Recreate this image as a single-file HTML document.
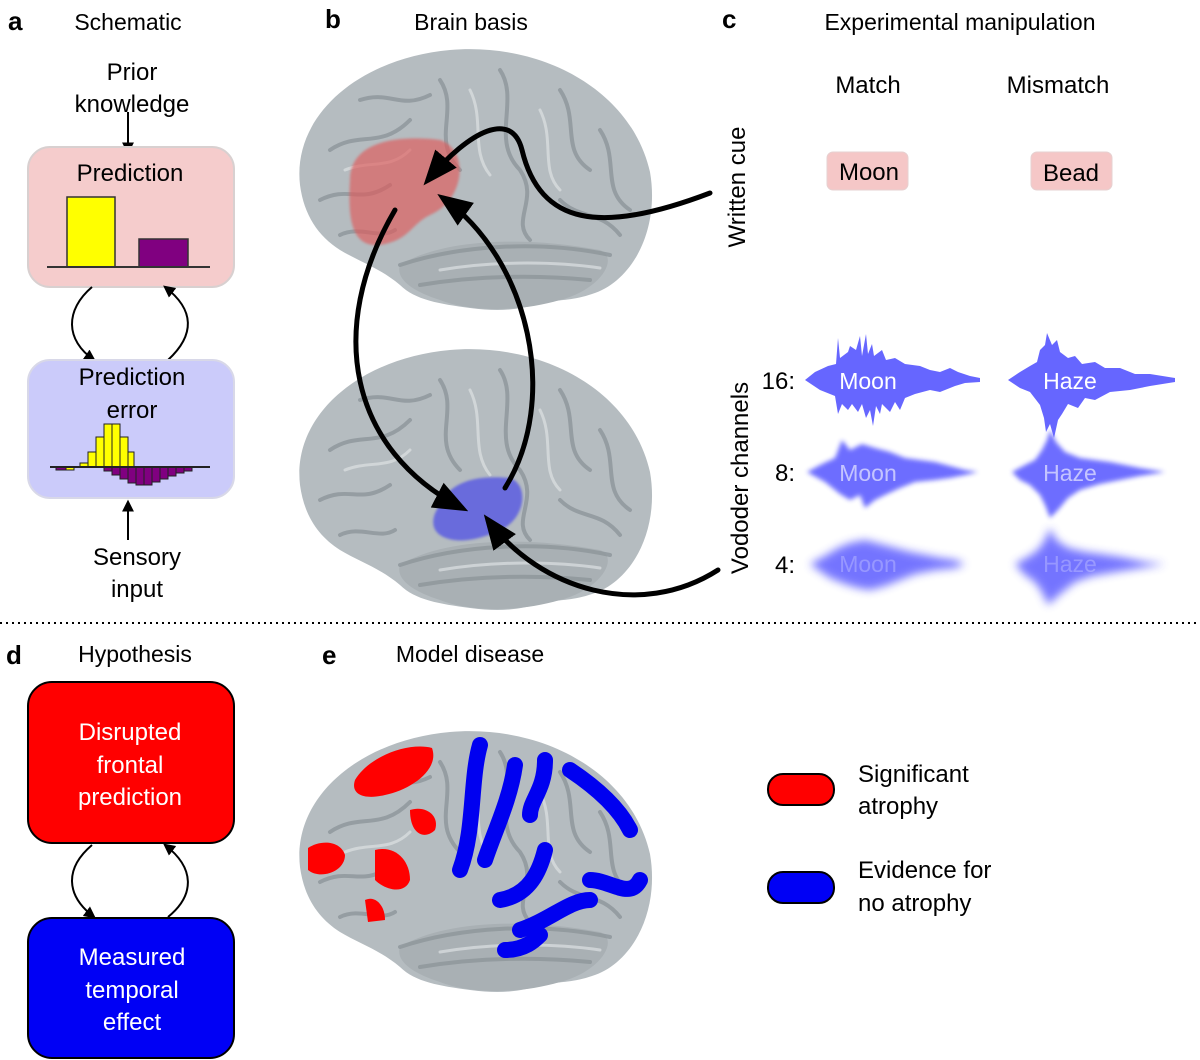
<!DOCTYPE html>
<html><head><meta charset="utf-8"><style>
html,body{margin:0;padding:0;background:#fff}
svg{display:block}
text{font-family:"Liberation Sans",Arial,sans-serif}
</style></head><body>
<svg width="1200" height="1060" viewBox="0 0 1200 1060" xmlns="http://www.w3.org/2000/svg">
<defs>
<marker id="ah" viewBox="0 0 10 10" refX="8" refY="5" markerWidth="6" markerHeight="6" orient="auto"><path d="M0,0 L10,5 L0,10 Z" fill="#000"/></marker>
<marker id="as" viewBox="0 0 10 10" refX="8" refY="5" markerWidth="7" markerHeight="7" orient="auto"><path d="M0,1 L10,5 L0,9 Z" fill="#000"/></marker>
<filter id="bl1"><feGaussianBlur stdDeviation="1.2"/></filter>
<filter id="bl2"><feGaussianBlur stdDeviation="2.5"/></filter>
<filter id="bl3"><feGaussianBlur stdDeviation="4.5"/></filter>
<g id="brain">
<path d="M300,185 C292,115 360,58 450,50 C545,42 632,92 650,172 C660,230 632,282 592,294 C575,300 560,300 545,302 C520,310 500,312 470,308 C440,304 415,300 400,285 C380,268 360,262 340,250 C318,236 304,215 300,185 Z" fill="#b5bcc0"/>
<path d="M400,265 C440,240 520,235 600,250 C620,258 600,290 560,300 C520,312 470,312 440,300 C415,292 395,280 400,265 Z" fill="#a9b0b4"/>
<g fill="none" stroke="#8e969b" stroke-width="4" stroke-linecap="round" opacity="0.8">
<path d="M330,150 C360,130 380,150 410,120"/><path d="M320,200 C350,185 360,205 390,185"/>
<path d="M440,80 C460,110 430,140 460,170"/><path d="M500,70 C520,100 490,140 520,170 C540,200 510,220 530,240"/>
<path d="M560,90 C580,120 560,150 590,170"/><path d="M600,130 C620,160 600,190 630,210"/>
<path d="M400,265 C460,245 540,240 610,255"/><path d="M420,285 C480,275 540,275 590,280"/>
<path d="M360,100 C390,90 400,110 430,95"/><path d="M560,200 C580,220 600,210 620,235"/>
<path d="M340,235 C360,225 380,240 395,230"/>
</g>
<g fill="none" stroke="#dde1e3" stroke-width="3" stroke-linecap="round" opacity="0.7">
<path d="M345,170 C370,160 390,170 410,150"/><path d="M470,90 C485,120 470,150 490,175"/><path d="M540,110 C555,140 540,170 560,190"/><path d="M440,270 C500,260 560,262 600,268"/>
</g>
</g>
</defs>

<!-- Panel a -->
<text x="8" y="30" font-size="26" font-weight="bold">a</text>
<text x="128" y="30" font-size="23" text-anchor="middle">Schematic</text>
<text x="132" y="80" font-size="24" text-anchor="middle">Prior</text>
<text x="132" y="112" font-size="24" text-anchor="middle">knowledge</text>
<line x1="128" y1="112" x2="128" y2="152" stroke="#000" stroke-width="2" marker-end="url(#ah)"/>
<rect x="28" y="147" width="206" height="140" rx="22" fill="#f5cccc" stroke="#d8d0d0" stroke-width="2"/>
<text x="130" y="181" font-size="24" text-anchor="middle">Prediction</text>
<rect x="67" y="197" width="48" height="70" fill="#ffff00" stroke="#333" stroke-width="1.5"/>
<rect x="139" y="239" width="49" height="28" fill="#800080" stroke="#333" stroke-width="1.5"/>
<line x1="47" y1="267" x2="210" y2="267" stroke="#333" stroke-width="2"/>
<path d="M92,287 C65,310 65,340 94,360" fill="none" stroke="#000" stroke-width="2" marker-end="url(#ah)"/>
<path d="M168,360 C195,335 195,310 165,287" fill="none" stroke="#000" stroke-width="2" marker-end="url(#ah)"/>
<rect x="28" y="360" width="206" height="138" rx="22" fill="#cbcbfa" stroke="#d8d8e8" stroke-width="2"/>
<text x="132" y="385" font-size="24" text-anchor="middle">Prediction</text>
<text x="132" y="418" font-size="24" text-anchor="middle">error</text>
<g stroke="#222" stroke-width="1">
<rect x="88" y="452" width="8" height="15" fill="#ffff00"/><rect x="96" y="437" width="8" height="30" fill="#ffff00"/><rect x="104" y="424" width="8" height="43" fill="#ffff00"/><rect x="112" y="424" width="8" height="43" fill="#ffff00"/><rect x="120" y="437" width="8" height="30" fill="#ffff00"/><rect x="128" y="452" width="6" height="15" fill="#ffff00"/>
<rect x="80" y="463" width="8" height="4" fill="#ffff00"/>
<rect x="104" y="467" width="8" height="4" fill="#800080"/><rect x="112" y="467" width="8" height="8" fill="#800080"/><rect x="120" y="467" width="8" height="12" fill="#800080"/><rect x="128" y="467" width="8" height="16" fill="#800080"/><rect x="136" y="467" width="8" height="18" fill="#800080"/><rect x="144" y="467" width="8" height="18" fill="#800080"/><rect x="152" y="467" width="8" height="15" fill="#800080"/><rect x="160" y="467" width="8" height="12" fill="#800080"/><rect x="168" y="467" width="8" height="9" fill="#800080"/><rect x="176" y="467" width="8" height="6" fill="#800080"/><rect x="184" y="467" width="8" height="4" fill="#800080"/>
<rect x="56" y="467" width="10" height="3" fill="#800080"/><rect x="66" y="467" width="8" height="3" fill="#ffff00"/>
</g>
<line x1="50" y1="467" x2="210" y2="467" stroke="#222" stroke-width="2"/>
<line x1="128" y1="540" x2="128" y2="502" stroke="#000" stroke-width="2" marker-end="url(#ah)"/>
<text x="137" y="565" font-size="24" text-anchor="middle">Sensory</text>
<text x="137" y="597" font-size="24" text-anchor="middle">input</text>

<!-- Panel b -->
<text x="325" y="28" font-size="26" font-weight="bold">b</text>
<text x="471" y="30" font-size="23" text-anchor="middle">Brain basis</text>
<use href="#brain"/>
<path d="M350,180 C350,140 400,135 440,140 C470,150 465,200 430,215 C410,225 410,240 380,245 C350,248 348,215 350,180 Z" fill="#e05a5a" opacity="0.65" filter="url(#bl1)"/>
<g transform="translate(0,300)"><use href="#brain"/></g>
<path d="M440,505 C450,480 480,475 510,478 C530,485 525,520 500,530 C480,540 455,545 440,535 C430,528 432,515 440,505 Z" fill="#4a4ae8" opacity="0.7" filter="url(#bl1)"/>
<g fill="none" stroke="#000" stroke-width="5" stroke-linecap="round">
<path d="M710,193 C600,235 540,225 522,150 C512,110 470,130 428,180" marker-end="url(#as)"/>
<path d="M395,210 C325,330 350,450 462,508" marker-end="url(#as)"/>
<path d="M505,488 C560,400 530,260 443,198" marker-end="url(#as)"/>
<path d="M718,570 C640,620 540,590 488,520" marker-end="url(#as)"/>
</g>

<!-- Panel c -->
<text x="722" y="28" font-size="26" font-weight="bold">c</text>
<text x="960" y="30" font-size="23" text-anchor="middle">Experimental manipulation</text>
<text x="868" y="93" font-size="24" text-anchor="middle">Match</text>
<text x="1058" y="93" font-size="24" text-anchor="middle">Mismatch</text>
<text transform="translate(745,187) rotate(-90)" font-size="24" text-anchor="middle">Written cue</text>
<rect x="827" y="152" width="81" height="38" rx="6" fill="#f5c7c7" stroke="#e6d0d0"/>
<text x="869" y="180" font-size="24" text-anchor="middle">Moon</text>
<rect x="1031" y="152" width="81" height="38" rx="6" fill="#f5c7c7" stroke="#e6d0d0"/>
<text x="1071" y="181" font-size="24" text-anchor="middle">Bead</text>
<text transform="translate(748,478) rotate(-90)" font-size="24" text-anchor="middle">Vododer channels</text>
<text x="795" y="389" font-size="24" text-anchor="end">16:</text>
<text x="795" y="481" font-size="24" text-anchor="end">8:</text>
<text x="795" y="573" font-size="24" text-anchor="end">4:</text>
<g fill="#6666ff">
<path d="M805,380 L815,372 L828,366 L836,364 L838,338 L840,358 L848,352 L850,346 L856,350 L860,336 L862,356 L866,334 L868,354 L872,344 L874,356 L882,350 L886,360 L895,358 L905,364 L920,366 L930,370 L940,372 L950,368 L958,372 L970,376 L980,378 L980,382 L965,383 L955,386 L940,392 L930,390 L915,394 L905,398 L900,410 L895,402 L890,412 L882,404 L880,414 L876,406 L873,426 L870,410 L866,418 L862,404 L858,412 L852,404 L848,410 L842,404 L838,414 L835,396 L820,390 Z"/>
<path d="M1008,380 L1020,372 L1030,366 L1037,362 L1040,350 L1045,345 L1047,333 L1052,345 L1057,340 L1060,352 L1068,358 L1075,356 L1082,364 L1095,362 L1105,368 L1120,368 L1135,374 L1150,374 L1175,378 L1175,382 L1150,386 L1130,390 L1110,392 L1095,400 L1085,398 L1078,408 L1068,404 L1062,414 L1058,420 L1054,438 L1050,424 L1046,432 L1044,418 L1040,405 L1030,392 L1020,388 Z"/>
</g>
<g fill="#6666ff" filter="url(#bl2)" opacity="0.95">
<path d="M807,472 L822,464 L835,458 L842,440 L850,450 L862,444 L875,448 L890,452 L905,458 L920,460 L935,462 L950,466 L965,470 L978,472 L965,475 L950,478 L935,480 L915,482 L900,488 L885,495 L875,500 L865,508 L860,495 L850,500 L840,494 L825,482 Z"/>
<path d="M1012,472 L1025,465 L1035,460 L1042,450 L1047,440 L1050,430 L1056,442 L1065,452 L1080,458 L1095,460 L1110,462 L1125,465 L1140,468 L1165,472 L1140,476 L1120,480 L1100,484 L1080,490 L1068,498 L1058,510 L1050,518 L1045,505 L1040,495 L1030,485 L1020,480 Z"/>
</g>
<g fill="#6666ff" filter="url(#bl3)" opacity="0.9">
<path d="M810,564 L825,556 L838,548 L850,543 L865,540 L880,544 L895,548 L910,552 L925,555 L940,558 L955,560 L965,564 L955,568 L935,570 L915,574 L900,580 L885,586 L870,590 L858,588 L845,584 L830,578 Z"/>
<path d="M1015,564 L1028,557 L1038,550 L1045,540 L1050,528 L1056,540 L1068,548 L1085,552 L1100,554 L1120,557 L1145,562 L1165,564 L1140,568 L1115,572 L1092,576 L1075,582 L1060,594 L1048,605 L1042,592 L1035,582 L1025,575 Z"/>
</g>
<text x="868" y="389" font-size="23" fill="#fff" text-anchor="middle">Moon</text>
<text x="1070" y="389" font-size="23" fill="#fff" text-anchor="middle">Haze</text>
<text x="868" y="481" font-size="23" fill="#fff" fill-opacity="0.6" text-anchor="middle">Moon</text>
<text x="1070" y="481" font-size="23" fill="#fff" fill-opacity="0.6" text-anchor="middle">Haze</text>
<text x="868" y="572" font-size="23" fill="#fff" fill-opacity="0.25" text-anchor="middle">Moon</text>
<text x="1070" y="572" font-size="23" fill="#fff" fill-opacity="0.25" text-anchor="middle">Haze</text>

<!-- divider -->
<line x1="0" y1="623" x2="1200" y2="623" stroke="#000" stroke-width="2" stroke-dasharray="2,4"/>

<!-- Panel d -->
<text x="6" y="664" font-size="26" font-weight="bold">d</text>
<text x="135" y="662" font-size="23" text-anchor="middle">Hypothesis</text>
<rect x="28" y="682" width="206" height="161" rx="24" fill="#f00" stroke="#000" stroke-width="2"/>
<text x="130" y="740" font-size="24" fill="#fff" text-anchor="middle">Disrupted</text>
<text x="130" y="773" font-size="24" fill="#fff" text-anchor="middle">frontal</text>
<text x="130" y="805" font-size="24" fill="#fff" text-anchor="middle">prediction</text>
<path d="M92,845 C65,868 65,895 94,917" fill="none" stroke="#000" stroke-width="2" marker-end="url(#ah)"/>
<path d="M168,917 C195,895 195,868 165,845" fill="none" stroke="#000" stroke-width="2" marker-end="url(#ah)"/>
<rect x="28" y="918" width="206" height="140" rx="24" fill="#0000f5" stroke="#000" stroke-width="2"/>
<text x="132" y="965" font-size="24" fill="#fff" text-anchor="middle">Measured</text>
<text x="132" y="998" font-size="24" fill="#fff" text-anchor="middle">temporal</text>
<text x="132" y="1030" font-size="24" fill="#fff" text-anchor="middle">effect</text>

<!-- Panel e -->
<text x="322" y="664" font-size="26" font-weight="bold">e</text>
<text x="470" y="662" font-size="23" text-anchor="middle">Model disease</text>
<g transform="translate(0,682)"><use href="#brain"/></g>
<g fill="#f00">
<path d="M355,780 C370,755 410,742 432,748 C440,770 410,790 385,795 C365,800 350,795 355,780 Z"/>
<path d="M308,848 C320,840 340,840 345,855 C345,872 320,880 308,870 Z"/>
<path d="M375,850 C395,845 410,860 410,880 C405,895 385,890 375,880 Z"/>
<path d="M410,810 C425,805 440,815 435,830 C425,840 410,835 410,810 Z"/>
<path d="M365,900 C375,895 385,905 385,920 L368,922 Z"/>
</g>
<g fill="none" stroke="#0000f0" stroke-width="16" stroke-linecap="round" stroke-linejoin="round">
<path d="M480,745 C470,780 475,830 460,870"/>
<path d="M515,765 C510,800 495,830 485,860"/>
<path d="M545,760 C545,790 530,800 530,815"/>
<path d="M570,770 C600,790 620,810 630,830"/>
<path d="M500,900 C530,895 540,870 545,850"/>
<path d="M520,930 C550,920 570,900 590,900"/>
<path d="M590,880 C610,880 630,900 640,880"/>
<path d="M505,950 C525,950 535,940 540,935"/>
</g>
<rect x="768" y="774" width="66" height="31" rx="15" fill="#f00" stroke="#000" stroke-width="2"/>
<text x="858" y="782" font-size="24">Significant</text>
<text x="858" y="814" font-size="24">atrophy</text>
<rect x="768" y="872" width="66" height="31" rx="15" fill="#0000f5" stroke="#000" stroke-width="2"/>
<text x="858" y="878" font-size="24">Evidence for</text>
<text x="858" y="911" font-size="24">no atrophy</text>
</svg>
</body></html>
